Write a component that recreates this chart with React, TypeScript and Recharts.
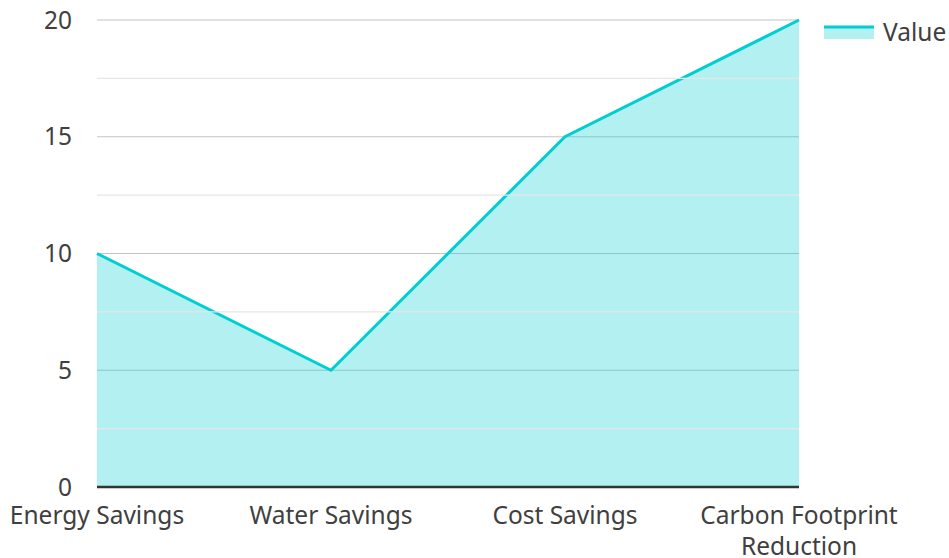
import React from 'react';
import { AreaChart, Area, XAxis, YAxis, CartesianGrid, ReferenceLine } from 'recharts';

const categories = ['Energy Savings', 'Water Savings', 'Cost Savings', 'Carbon Footprint Reduction'];
const values = [10, 5, 15, 20];
const majorTicks = [0, 5, 10, 15, 20];
const minorTicks = [2.5, 7.5, 12.5, 17.5];
const seriesName = 'Value';

const data = categories.map((c, i) => ({ name: c, value: values[i] }));

const FONT = '"Noto Sans", sans-serif';
const COLOR = '#00CED1';
const TEXT = '#404040';
const TICK_FONT_SIZE = 24.5;
const WRAP_WIDTH = 230;

let ctx: CanvasRenderingContext2D | null = null;
const measure = (s: string) => {
  if (!ctx && typeof document !== 'undefined') {
    ctx = document.createElement('canvas').getContext('2d');
  }
  if (!ctx) return s.length * TICK_FONT_SIZE * 0.55;
  ctx.font = `${TICK_FONT_SIZE}px ${FONT}`;
  return ctx.measureText(s).width;
};

const wrap = (s: string, width: number) => {
  const words = s.split(' ');
  const lines: string[] = [];
  let cur = '';
  words.forEach((w) => {
    const next = cur ? `${cur} ${w}` : w;
    if (cur && measure(next) > width) {
      lines.push(cur);
      cur = w;
    } else {
      cur = next;
    }
  });
  if (cur) lines.push(cur);
  return lines;
};

const XTick = (props: any) => {
  const { x, y, payload } = props;
  const lines = wrap(String(payload.value), WRAP_WIDTH);
  return (
    <text
      x={x}
      y={y}
      textAnchor="middle"
      fontSize={TICK_FONT_SIZE}
      fontFamily={FONT}
      fill={TEXT}
    >
      {lines.map((l, i) => (
        <tspan key={i} x={x} dy={i === 0 ? '0.71em' : '1.25em'}>
          {l}
        </tspan>
      ))}
    </text>
  );
};

export default function App() {
  return (
    <div style={{ position: 'absolute', left: 0, top: 0, width: 949, height: 558 }}>
      <AreaChart
        width={949}
        height={558}
        data={data}
        margin={{ top: 20, right: 150, bottom: 0, left: 0 }}
      >
        <CartesianGrid vertical={false} stroke="#c4c4c4" strokeWidth={1.2} />
        {minorTicks.map((t) => (
          <ReferenceLine key={t} y={t} stroke="#e6e6e6" strokeWidth={1.2} />
        ))}
        <XAxis
          dataKey="name"
          height={71}
          tickLine={false}
          axisLine={{ stroke: '#333333', strokeWidth: 2.5 }}
          tickSize={0}
          tickMargin={20}
          interval={0}
          tick={<XTick />}
        />
        <YAxis
          width={97}
          domain={[0, 20]}
          ticks={majorTicks}
          axisLine={false}
          tickLine={false}
          tickSize={0}
          tickMargin={25}
          tick={{ fontSize: TICK_FONT_SIZE, fontFamily: FONT, fill: TEXT }}
        />
        <Area
          type="linear"
          dataKey="value"
          name={seriesName}
          stroke={COLOR}
          strokeWidth={3}
          fill={COLOR}
          fillOpacity={0.3}
          isAnimationActive={false}
          dot={false}
          activeDot={false}
        />
      </AreaChart>
      <div
        style={{
          position: 'absolute',
          left: 824,
          top: 19,
          display: 'flex',
          alignItems: 'center',
        }}
      >
        <svg width={50} height={14} style={{ display: 'block' }}>
          <rect x={0} y={2} width={50} height={12} fill={COLOR} fillOpacity={0.3} />
          <line x1={0} x2={50} y1={2} y2={2} stroke={COLOR} strokeWidth={3} />
        </svg>
        <span style={{ marginLeft: 9, fontFamily: FONT, fontSize: TICK_FONT_SIZE, color: TEXT, lineHeight: '25px' }}>
          {seriesName}
        </span>
      </div>
    </div>
  );
}
